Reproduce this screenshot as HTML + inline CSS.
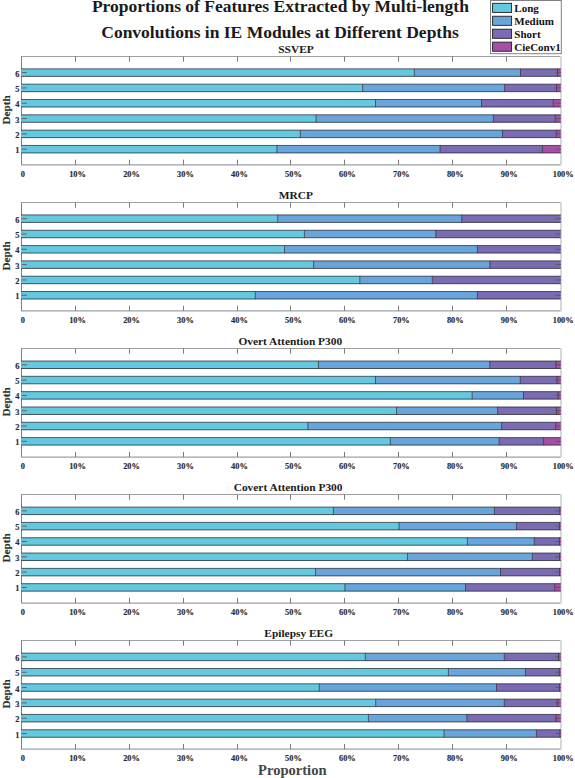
<!DOCTYPE html>
<html><head><meta charset="utf-8"><style>
html,body{margin:0;padding:0;background:#fff;}
body{width:575px;height:778px;position:relative;overflow:hidden;}
.b{font-family:"Liberation Serif",serif;font-weight:bold;}
</style></head><body>
<svg width="575" height="778" viewBox="0 0 575 778" style="position:absolute;left:0;top:0">
<text x="280.4" y="12.2" text-anchor="middle" font-size="17.5" fill="#1a1a1a" class="b">Proportions of Features Extracted by Multi-length</text>
<text x="280" y="38.0" text-anchor="middle" font-size="17.5" fill="#1a1a1a" class="b">Convolutions in IE Modules at Different Depths</text>
<text x="296.0" y="53.3" text-anchor="middle" font-size="11.4" fill="#1a1a1a" class="b">SSVEP</text>
<line x1="21.2" y1="56.5" x2="560.8" y2="56.5" stroke="#a0a0a0" stroke-width="1"/>
<line x1="21.2" y1="164.9" x2="560.8" y2="164.9" stroke="#9aa0a8" stroke-width="1.25"/>
<line x1="21.5" y1="56.5" x2="21.5" y2="164.9" stroke="#808080" stroke-width="1"/>
<line x1="561.0" y1="56.5" x2="561.0" y2="164.9" stroke="#d2d4d6" stroke-width="1.8"/>
<line x1="75.50" y1="56.5" x2="75.50" y2="61.70" stroke="#7a7a7a" stroke-width="1"/>
<line x1="75.50" y1="164.9" x2="75.50" y2="159.70" stroke="#7a7a7a" stroke-width="1"/>
<line x1="129.50" y1="56.5" x2="129.50" y2="61.70" stroke="#7a7a7a" stroke-width="1"/>
<line x1="129.50" y1="164.9" x2="129.50" y2="159.70" stroke="#7a7a7a" stroke-width="1"/>
<line x1="183.50" y1="56.5" x2="183.50" y2="61.70" stroke="#7a7a7a" stroke-width="1"/>
<line x1="183.50" y1="164.9" x2="183.50" y2="159.70" stroke="#7a7a7a" stroke-width="1"/>
<line x1="237.50" y1="56.5" x2="237.50" y2="61.70" stroke="#7a7a7a" stroke-width="1"/>
<line x1="237.50" y1="164.9" x2="237.50" y2="159.70" stroke="#7a7a7a" stroke-width="1"/>
<line x1="290.50" y1="56.5" x2="290.50" y2="61.70" stroke="#7a7a7a" stroke-width="1"/>
<line x1="290.50" y1="164.9" x2="290.50" y2="159.70" stroke="#7a7a7a" stroke-width="1"/>
<line x1="344.50" y1="56.5" x2="344.50" y2="61.70" stroke="#7a7a7a" stroke-width="1"/>
<line x1="344.50" y1="164.9" x2="344.50" y2="159.70" stroke="#7a7a7a" stroke-width="1"/>
<line x1="398.50" y1="56.5" x2="398.50" y2="61.70" stroke="#7a7a7a" stroke-width="1"/>
<line x1="398.50" y1="164.9" x2="398.50" y2="159.70" stroke="#7a7a7a" stroke-width="1"/>
<line x1="452.50" y1="56.5" x2="452.50" y2="61.70" stroke="#7a7a7a" stroke-width="1"/>
<line x1="452.50" y1="164.9" x2="452.50" y2="159.70" stroke="#7a7a7a" stroke-width="1"/>
<line x1="506.50" y1="56.5" x2="506.50" y2="61.70" stroke="#7a7a7a" stroke-width="1"/>
<line x1="506.50" y1="164.9" x2="506.50" y2="159.70" stroke="#7a7a7a" stroke-width="1"/>
<text x="22.80" y="176.9" text-anchor="middle" font-size="8.4" fill="#2a2a2a" stroke="#2a2a2a" stroke-width="0.15" class="b">0</text>
<text x="77.56" y="176.9" text-anchor="middle" font-size="8.4" fill="#2a2a2a" stroke="#2a2a2a" stroke-width="0.15" class="b">10%</text>
<text x="131.52" y="176.9" text-anchor="middle" font-size="8.4" fill="#2a2a2a" stroke="#2a2a2a" stroke-width="0.15" class="b">20%</text>
<text x="185.48" y="176.9" text-anchor="middle" font-size="8.4" fill="#2a2a2a" stroke="#2a2a2a" stroke-width="0.15" class="b">30%</text>
<text x="239.44" y="176.9" text-anchor="middle" font-size="8.4" fill="#2a2a2a" stroke="#2a2a2a" stroke-width="0.15" class="b">40%</text>
<text x="293.40" y="176.9" text-anchor="middle" font-size="8.4" fill="#2a2a2a" stroke="#2a2a2a" stroke-width="0.15" class="b">50%</text>
<text x="347.36" y="176.9" text-anchor="middle" font-size="8.4" fill="#2a2a2a" stroke="#2a2a2a" stroke-width="0.15" class="b">60%</text>
<text x="401.32" y="176.9" text-anchor="middle" font-size="8.4" fill="#2a2a2a" stroke="#2a2a2a" stroke-width="0.15" class="b">70%</text>
<text x="455.28" y="176.9" text-anchor="middle" font-size="8.4" fill="#2a2a2a" stroke="#2a2a2a" stroke-width="0.15" class="b">80%</text>
<text x="509.24" y="176.9" text-anchor="middle" font-size="8.4" fill="#2a2a2a" stroke="#2a2a2a" stroke-width="0.15" class="b">90%</text>
<text x="563.20" y="176.9" text-anchor="middle" font-size="8.4" fill="#2a2a2a" stroke="#2a2a2a" stroke-width="0.15" class="b">100%</text>
<rect x="21.20" y="145.45" width="255.70" height="7.50" fill="#64c8e1"/>
<rect x="276.90" y="145.45" width="163.20" height="7.50" fill="#68a5dc"/>
<rect x="440.10" y="145.45" width="102.30" height="7.50" fill="#7b6bb5"/>
<rect x="542.40" y="145.45" width="18.40" height="7.50" fill="#a550a7"/>
<line x1="21.2" y1="145.45" x2="560.8" y2="145.45" stroke="#1a1a1a" stroke-opacity="0.75" stroke-width="0.9"/>
<line x1="21.2" y1="152.95" x2="560.8" y2="152.95" stroke="#1a1a1a" stroke-opacity="0.8" stroke-width="0.9"/>
<line x1="276.90" y1="145.45" x2="276.90" y2="152.95" stroke="#1a1a1a" stroke-opacity="0.7" stroke-width="0.9"/>
<line x1="440.10" y1="145.45" x2="440.10" y2="152.95" stroke="#1a1a1a" stroke-opacity="0.7" stroke-width="0.9"/>
<line x1="542.40" y1="145.45" x2="542.40" y2="152.95" stroke="#1a1a1a" stroke-opacity="0.7" stroke-width="0.9"/>
<rect x="21.20" y="130.13" width="279.20" height="7.50" fill="#64c8e1"/>
<rect x="300.40" y="130.13" width="202.10" height="7.50" fill="#68a5dc"/>
<rect x="502.50" y="130.13" width="53.80" height="7.50" fill="#7b6bb5"/>
<rect x="556.30" y="130.13" width="4.50" height="7.50" fill="#a550a7"/>
<line x1="21.2" y1="130.13" x2="560.8" y2="130.13" stroke="#1a1a1a" stroke-opacity="0.75" stroke-width="0.9"/>
<line x1="21.2" y1="137.63" x2="560.8" y2="137.63" stroke="#1a1a1a" stroke-opacity="0.8" stroke-width="0.9"/>
<line x1="300.40" y1="130.13" x2="300.40" y2="137.63" stroke="#1a1a1a" stroke-opacity="0.7" stroke-width="0.9"/>
<line x1="502.50" y1="130.13" x2="502.50" y2="137.63" stroke="#1a1a1a" stroke-opacity="0.7" stroke-width="0.9"/>
<line x1="556.30" y1="130.13" x2="556.30" y2="137.63" stroke="#1a1a1a" stroke-opacity="0.7" stroke-width="0.9"/>
<rect x="21.20" y="114.81" width="294.90" height="7.50" fill="#64c8e1"/>
<rect x="316.10" y="114.81" width="177.30" height="7.50" fill="#68a5dc"/>
<rect x="493.40" y="114.81" width="61.90" height="7.50" fill="#7b6bb5"/>
<rect x="555.30" y="114.81" width="5.50" height="7.50" fill="#a550a7"/>
<line x1="21.2" y1="114.81" x2="560.8" y2="114.81" stroke="#1a1a1a" stroke-opacity="0.75" stroke-width="0.9"/>
<line x1="21.2" y1="122.31" x2="560.8" y2="122.31" stroke="#1a1a1a" stroke-opacity="0.8" stroke-width="0.9"/>
<line x1="316.10" y1="114.81" x2="316.10" y2="122.31" stroke="#1a1a1a" stroke-opacity="0.7" stroke-width="0.9"/>
<line x1="493.40" y1="114.81" x2="493.40" y2="122.31" stroke="#1a1a1a" stroke-opacity="0.7" stroke-width="0.9"/>
<line x1="555.30" y1="114.81" x2="555.30" y2="122.31" stroke="#1a1a1a" stroke-opacity="0.7" stroke-width="0.9"/>
<rect x="21.20" y="99.49" width="354.30" height="7.50" fill="#64c8e1"/>
<rect x="375.50" y="99.49" width="106.00" height="7.50" fill="#68a5dc"/>
<rect x="481.50" y="99.49" width="71.80" height="7.50" fill="#7b6bb5"/>
<rect x="553.30" y="99.49" width="7.50" height="7.50" fill="#a550a7"/>
<line x1="21.2" y1="99.49" x2="560.8" y2="99.49" stroke="#1a1a1a" stroke-opacity="0.75" stroke-width="0.9"/>
<line x1="21.2" y1="106.99" x2="560.8" y2="106.99" stroke="#1a1a1a" stroke-opacity="0.8" stroke-width="0.9"/>
<line x1="375.50" y1="99.49" x2="375.50" y2="106.99" stroke="#1a1a1a" stroke-opacity="0.7" stroke-width="0.9"/>
<line x1="481.50" y1="99.49" x2="481.50" y2="106.99" stroke="#1a1a1a" stroke-opacity="0.7" stroke-width="0.9"/>
<line x1="553.30" y1="99.49" x2="553.30" y2="106.99" stroke="#1a1a1a" stroke-opacity="0.7" stroke-width="0.9"/>
<rect x="21.20" y="84.17" width="341.40" height="7.50" fill="#64c8e1"/>
<rect x="362.60" y="84.17" width="142.00" height="7.50" fill="#68a5dc"/>
<rect x="504.60" y="84.17" width="51.90" height="7.50" fill="#7b6bb5"/>
<rect x="556.50" y="84.17" width="4.30" height="7.50" fill="#a550a7"/>
<line x1="21.2" y1="84.17" x2="560.8" y2="84.17" stroke="#1a1a1a" stroke-opacity="0.75" stroke-width="0.9"/>
<line x1="21.2" y1="91.67" x2="560.8" y2="91.67" stroke="#1a1a1a" stroke-opacity="0.8" stroke-width="0.9"/>
<line x1="362.60" y1="84.17" x2="362.60" y2="91.67" stroke="#1a1a1a" stroke-opacity="0.7" stroke-width="0.9"/>
<line x1="504.60" y1="84.17" x2="504.60" y2="91.67" stroke="#1a1a1a" stroke-opacity="0.7" stroke-width="0.9"/>
<line x1="556.50" y1="84.17" x2="556.50" y2="91.67" stroke="#1a1a1a" stroke-opacity="0.7" stroke-width="0.9"/>
<rect x="21.20" y="68.85" width="393.10" height="7.50" fill="#64c8e1"/>
<rect x="414.30" y="68.85" width="106.20" height="7.50" fill="#68a5dc"/>
<rect x="520.50" y="68.85" width="37.00" height="7.50" fill="#7b6bb5"/>
<rect x="557.50" y="68.85" width="3.30" height="7.50" fill="#a550a7"/>
<line x1="21.2" y1="68.85" x2="560.8" y2="68.85" stroke="#1a1a1a" stroke-opacity="0.75" stroke-width="0.9"/>
<line x1="21.2" y1="76.35" x2="560.8" y2="76.35" stroke="#1a1a1a" stroke-opacity="0.8" stroke-width="0.9"/>
<line x1="414.30" y1="68.85" x2="414.30" y2="76.35" stroke="#1a1a1a" stroke-opacity="0.7" stroke-width="0.9"/>
<line x1="520.50" y1="68.85" x2="520.50" y2="76.35" stroke="#1a1a1a" stroke-opacity="0.7" stroke-width="0.9"/>
<line x1="557.50" y1="68.85" x2="557.50" y2="76.35" stroke="#1a1a1a" stroke-opacity="0.7" stroke-width="0.9"/>
<line x1="21.5" y1="149.20" x2="26.90" y2="149.20" stroke="#505050" stroke-width="0.8"/>
<line x1="560.8" y1="149.20" x2="555.40" y2="149.20" stroke="#505050" stroke-width="0.8"/>
<text x="19.5" y="153.20" text-anchor="end" font-size="8.4" fill="#2a2a2a" stroke="#2a2a2a" stroke-width="0.15" class="b">1</text>
<line x1="21.5" y1="133.88" x2="26.90" y2="133.88" stroke="#505050" stroke-width="0.8"/>
<line x1="560.8" y1="133.88" x2="555.40" y2="133.88" stroke="#505050" stroke-width="0.8"/>
<text x="19.5" y="137.88" text-anchor="end" font-size="8.4" fill="#2a2a2a" stroke="#2a2a2a" stroke-width="0.15" class="b">2</text>
<line x1="21.5" y1="118.56" x2="26.90" y2="118.56" stroke="#505050" stroke-width="0.8"/>
<line x1="560.8" y1="118.56" x2="555.40" y2="118.56" stroke="#505050" stroke-width="0.8"/>
<text x="19.5" y="122.56" text-anchor="end" font-size="8.4" fill="#2a2a2a" stroke="#2a2a2a" stroke-width="0.15" class="b">3</text>
<line x1="21.5" y1="103.24" x2="26.90" y2="103.24" stroke="#505050" stroke-width="0.8"/>
<line x1="560.8" y1="103.24" x2="555.40" y2="103.24" stroke="#505050" stroke-width="0.8"/>
<text x="19.5" y="107.24" text-anchor="end" font-size="8.4" fill="#2a2a2a" stroke="#2a2a2a" stroke-width="0.15" class="b">4</text>
<line x1="21.5" y1="87.92" x2="26.90" y2="87.92" stroke="#505050" stroke-width="0.8"/>
<line x1="560.8" y1="87.92" x2="555.40" y2="87.92" stroke="#505050" stroke-width="0.8"/>
<text x="19.5" y="91.92" text-anchor="end" font-size="8.4" fill="#2a2a2a" stroke="#2a2a2a" stroke-width="0.15" class="b">5</text>
<line x1="21.5" y1="72.60" x2="26.90" y2="72.60" stroke="#505050" stroke-width="0.8"/>
<line x1="560.8" y1="72.60" x2="555.40" y2="72.60" stroke="#505050" stroke-width="0.8"/>
<text x="19.5" y="76.60" text-anchor="end" font-size="8.4" fill="#2a2a2a" stroke="#2a2a2a" stroke-width="0.15" class="b">6</text>
<text x="10.4" y="110.0" text-anchor="middle" font-size="11.2" fill="#2e2e2e" stroke="#2e2e2e" stroke-width="0.15" class="b" transform="rotate(-90 10.4 110.0)">Depth</text>
<text x="295.8" y="199.3" text-anchor="middle" font-size="11.4" fill="#1a1a1a" class="b">MRCP</text>
<line x1="21.2" y1="202.5" x2="560.8" y2="202.5" stroke="#a0a0a0" stroke-width="1"/>
<line x1="21.2" y1="310.975" x2="560.8" y2="310.975" stroke="#9aa0a8" stroke-width="1.25"/>
<line x1="21.5" y1="202.5" x2="21.5" y2="310.975" stroke="#808080" stroke-width="1"/>
<line x1="561.0" y1="202.5" x2="561.0" y2="310.975" stroke="#d2d4d6" stroke-width="1.8"/>
<line x1="75.50" y1="202.5" x2="75.50" y2="207.70" stroke="#7a7a7a" stroke-width="1"/>
<line x1="75.50" y1="310.975" x2="75.50" y2="305.78" stroke="#7a7a7a" stroke-width="1"/>
<line x1="129.50" y1="202.5" x2="129.50" y2="207.70" stroke="#7a7a7a" stroke-width="1"/>
<line x1="129.50" y1="310.975" x2="129.50" y2="305.78" stroke="#7a7a7a" stroke-width="1"/>
<line x1="183.50" y1="202.5" x2="183.50" y2="207.70" stroke="#7a7a7a" stroke-width="1"/>
<line x1="183.50" y1="310.975" x2="183.50" y2="305.78" stroke="#7a7a7a" stroke-width="1"/>
<line x1="237.50" y1="202.5" x2="237.50" y2="207.70" stroke="#7a7a7a" stroke-width="1"/>
<line x1="237.50" y1="310.975" x2="237.50" y2="305.78" stroke="#7a7a7a" stroke-width="1"/>
<line x1="290.50" y1="202.5" x2="290.50" y2="207.70" stroke="#7a7a7a" stroke-width="1"/>
<line x1="290.50" y1="310.975" x2="290.50" y2="305.78" stroke="#7a7a7a" stroke-width="1"/>
<line x1="344.50" y1="202.5" x2="344.50" y2="207.70" stroke="#7a7a7a" stroke-width="1"/>
<line x1="344.50" y1="310.975" x2="344.50" y2="305.78" stroke="#7a7a7a" stroke-width="1"/>
<line x1="398.50" y1="202.5" x2="398.50" y2="207.70" stroke="#7a7a7a" stroke-width="1"/>
<line x1="398.50" y1="310.975" x2="398.50" y2="305.78" stroke="#7a7a7a" stroke-width="1"/>
<line x1="452.50" y1="202.5" x2="452.50" y2="207.70" stroke="#7a7a7a" stroke-width="1"/>
<line x1="452.50" y1="310.975" x2="452.50" y2="305.78" stroke="#7a7a7a" stroke-width="1"/>
<line x1="506.50" y1="202.5" x2="506.50" y2="207.70" stroke="#7a7a7a" stroke-width="1"/>
<line x1="506.50" y1="310.975" x2="506.50" y2="305.78" stroke="#7a7a7a" stroke-width="1"/>
<text x="22.80" y="323.0" text-anchor="middle" font-size="8.4" fill="#2a2a2a" stroke="#2a2a2a" stroke-width="0.15" class="b">0</text>
<text x="77.56" y="323.0" text-anchor="middle" font-size="8.4" fill="#2a2a2a" stroke="#2a2a2a" stroke-width="0.15" class="b">10%</text>
<text x="131.52" y="323.0" text-anchor="middle" font-size="8.4" fill="#2a2a2a" stroke="#2a2a2a" stroke-width="0.15" class="b">20%</text>
<text x="185.48" y="323.0" text-anchor="middle" font-size="8.4" fill="#2a2a2a" stroke="#2a2a2a" stroke-width="0.15" class="b">30%</text>
<text x="239.44" y="323.0" text-anchor="middle" font-size="8.4" fill="#2a2a2a" stroke="#2a2a2a" stroke-width="0.15" class="b">40%</text>
<text x="293.40" y="323.0" text-anchor="middle" font-size="8.4" fill="#2a2a2a" stroke="#2a2a2a" stroke-width="0.15" class="b">50%</text>
<text x="347.36" y="323.0" text-anchor="middle" font-size="8.4" fill="#2a2a2a" stroke="#2a2a2a" stroke-width="0.15" class="b">60%</text>
<text x="401.32" y="323.0" text-anchor="middle" font-size="8.4" fill="#2a2a2a" stroke="#2a2a2a" stroke-width="0.15" class="b">70%</text>
<text x="455.28" y="323.0" text-anchor="middle" font-size="8.4" fill="#2a2a2a" stroke="#2a2a2a" stroke-width="0.15" class="b">80%</text>
<text x="509.24" y="323.0" text-anchor="middle" font-size="8.4" fill="#2a2a2a" stroke="#2a2a2a" stroke-width="0.15" class="b">90%</text>
<text x="563.20" y="323.0" text-anchor="middle" font-size="8.4" fill="#2a2a2a" stroke="#2a2a2a" stroke-width="0.15" class="b">100%</text>
<rect x="21.20" y="291.52" width="234.10" height="7.50" fill="#64c8e1"/>
<rect x="255.30" y="291.52" width="222.10" height="7.50" fill="#68a5dc"/>
<rect x="477.40" y="291.52" width="83.40" height="7.50" fill="#7b6bb5"/>
<line x1="21.2" y1="291.52" x2="560.8" y2="291.52" stroke="#1a1a1a" stroke-opacity="0.75" stroke-width="0.9"/>
<line x1="21.2" y1="299.02" x2="560.8" y2="299.02" stroke="#1a1a1a" stroke-opacity="0.8" stroke-width="0.9"/>
<line x1="255.30" y1="291.52" x2="255.30" y2="299.02" stroke="#1a1a1a" stroke-opacity="0.7" stroke-width="0.9"/>
<line x1="477.40" y1="291.52" x2="477.40" y2="299.02" stroke="#1a1a1a" stroke-opacity="0.7" stroke-width="0.9"/>
<rect x="21.20" y="276.20" width="338.60" height="7.50" fill="#64c8e1"/>
<rect x="359.80" y="276.20" width="72.50" height="7.50" fill="#68a5dc"/>
<rect x="432.30" y="276.20" width="128.50" height="7.50" fill="#7b6bb5"/>
<line x1="21.2" y1="276.20" x2="560.8" y2="276.20" stroke="#1a1a1a" stroke-opacity="0.75" stroke-width="0.9"/>
<line x1="21.2" y1="283.70" x2="560.8" y2="283.70" stroke="#1a1a1a" stroke-opacity="0.8" stroke-width="0.9"/>
<line x1="359.80" y1="276.20" x2="359.80" y2="283.70" stroke="#1a1a1a" stroke-opacity="0.7" stroke-width="0.9"/>
<line x1="432.30" y1="276.20" x2="432.30" y2="283.70" stroke="#1a1a1a" stroke-opacity="0.7" stroke-width="0.9"/>
<rect x="21.20" y="260.88" width="292.40" height="7.50" fill="#64c8e1"/>
<rect x="313.60" y="260.88" width="176.20" height="7.50" fill="#68a5dc"/>
<rect x="489.80" y="260.88" width="71.00" height="7.50" fill="#7b6bb5"/>
<line x1="21.2" y1="260.88" x2="560.8" y2="260.88" stroke="#1a1a1a" stroke-opacity="0.75" stroke-width="0.9"/>
<line x1="21.2" y1="268.38" x2="560.8" y2="268.38" stroke="#1a1a1a" stroke-opacity="0.8" stroke-width="0.9"/>
<line x1="313.60" y1="260.88" x2="313.60" y2="268.38" stroke="#1a1a1a" stroke-opacity="0.7" stroke-width="0.9"/>
<line x1="489.80" y1="260.88" x2="489.80" y2="268.38" stroke="#1a1a1a" stroke-opacity="0.7" stroke-width="0.9"/>
<rect x="21.20" y="245.56" width="263.30" height="7.50" fill="#64c8e1"/>
<rect x="284.50" y="245.56" width="192.90" height="7.50" fill="#68a5dc"/>
<rect x="477.40" y="245.56" width="83.40" height="7.50" fill="#7b6bb5"/>
<line x1="21.2" y1="245.56" x2="560.8" y2="245.56" stroke="#1a1a1a" stroke-opacity="0.75" stroke-width="0.9"/>
<line x1="21.2" y1="253.06" x2="560.8" y2="253.06" stroke="#1a1a1a" stroke-opacity="0.8" stroke-width="0.9"/>
<line x1="284.50" y1="245.56" x2="284.50" y2="253.06" stroke="#1a1a1a" stroke-opacity="0.7" stroke-width="0.9"/>
<line x1="477.40" y1="245.56" x2="477.40" y2="253.06" stroke="#1a1a1a" stroke-opacity="0.7" stroke-width="0.9"/>
<rect x="21.20" y="230.24" width="283.20" height="7.50" fill="#64c8e1"/>
<rect x="304.40" y="230.24" width="131.40" height="7.50" fill="#68a5dc"/>
<rect x="435.80" y="230.24" width="125.00" height="7.50" fill="#7b6bb5"/>
<line x1="21.2" y1="230.24" x2="560.8" y2="230.24" stroke="#1a1a1a" stroke-opacity="0.75" stroke-width="0.9"/>
<line x1="21.2" y1="237.74" x2="560.8" y2="237.74" stroke="#1a1a1a" stroke-opacity="0.8" stroke-width="0.9"/>
<line x1="304.40" y1="230.24" x2="304.40" y2="237.74" stroke="#1a1a1a" stroke-opacity="0.7" stroke-width="0.9"/>
<line x1="435.80" y1="230.24" x2="435.80" y2="237.74" stroke="#1a1a1a" stroke-opacity="0.7" stroke-width="0.9"/>
<rect x="21.20" y="214.92" width="256.50" height="7.50" fill="#64c8e1"/>
<rect x="277.70" y="214.92" width="184.00" height="7.50" fill="#68a5dc"/>
<rect x="461.70" y="214.92" width="99.10" height="7.50" fill="#7b6bb5"/>
<line x1="21.2" y1="214.92" x2="560.8" y2="214.92" stroke="#1a1a1a" stroke-opacity="0.75" stroke-width="0.9"/>
<line x1="21.2" y1="222.42" x2="560.8" y2="222.42" stroke="#1a1a1a" stroke-opacity="0.8" stroke-width="0.9"/>
<line x1="277.70" y1="214.92" x2="277.70" y2="222.42" stroke="#1a1a1a" stroke-opacity="0.7" stroke-width="0.9"/>
<line x1="461.70" y1="214.92" x2="461.70" y2="222.42" stroke="#1a1a1a" stroke-opacity="0.7" stroke-width="0.9"/>
<line x1="21.5" y1="295.27" x2="26.90" y2="295.27" stroke="#505050" stroke-width="0.8"/>
<line x1="560.8" y1="295.27" x2="555.40" y2="295.27" stroke="#505050" stroke-width="0.8"/>
<text x="19.5" y="299.27" text-anchor="end" font-size="8.4" fill="#2a2a2a" stroke="#2a2a2a" stroke-width="0.15" class="b">1</text>
<line x1="21.5" y1="279.95" x2="26.90" y2="279.95" stroke="#505050" stroke-width="0.8"/>
<line x1="560.8" y1="279.95" x2="555.40" y2="279.95" stroke="#505050" stroke-width="0.8"/>
<text x="19.5" y="283.95" text-anchor="end" font-size="8.4" fill="#2a2a2a" stroke="#2a2a2a" stroke-width="0.15" class="b">2</text>
<line x1="21.5" y1="264.63" x2="26.90" y2="264.63" stroke="#505050" stroke-width="0.8"/>
<line x1="560.8" y1="264.63" x2="555.40" y2="264.63" stroke="#505050" stroke-width="0.8"/>
<text x="19.5" y="268.63" text-anchor="end" font-size="8.4" fill="#2a2a2a" stroke="#2a2a2a" stroke-width="0.15" class="b">3</text>
<line x1="21.5" y1="249.31" x2="26.90" y2="249.31" stroke="#505050" stroke-width="0.8"/>
<line x1="560.8" y1="249.31" x2="555.40" y2="249.31" stroke="#505050" stroke-width="0.8"/>
<text x="19.5" y="253.31" text-anchor="end" font-size="8.4" fill="#2a2a2a" stroke="#2a2a2a" stroke-width="0.15" class="b">4</text>
<line x1="21.5" y1="233.99" x2="26.90" y2="233.99" stroke="#505050" stroke-width="0.8"/>
<line x1="560.8" y1="233.99" x2="555.40" y2="233.99" stroke="#505050" stroke-width="0.8"/>
<text x="19.5" y="237.99" text-anchor="end" font-size="8.4" fill="#2a2a2a" stroke="#2a2a2a" stroke-width="0.15" class="b">5</text>
<line x1="21.5" y1="218.67" x2="26.90" y2="218.67" stroke="#505050" stroke-width="0.8"/>
<line x1="560.8" y1="218.67" x2="555.40" y2="218.67" stroke="#505050" stroke-width="0.8"/>
<text x="19.5" y="222.67" text-anchor="end" font-size="8.4" fill="#2a2a2a" stroke="#2a2a2a" stroke-width="0.15" class="b">6</text>
<text x="10.4" y="256.0" text-anchor="middle" font-size="11.2" fill="#2e2e2e" stroke="#2e2e2e" stroke-width="0.15" class="b" transform="rotate(-90 10.4 256.0)">Depth</text>
<text x="290.3" y="345.3" text-anchor="middle" font-size="11.4" fill="#1a1a1a" class="b">Overt Attention P300</text>
<line x1="21.2" y1="348.5" x2="560.8" y2="348.5" stroke="#a0a0a0" stroke-width="1"/>
<line x1="21.2" y1="457.04999999999995" x2="560.8" y2="457.04999999999995" stroke="#9aa0a8" stroke-width="1.25"/>
<line x1="21.5" y1="348.5" x2="21.5" y2="457.04999999999995" stroke="#808080" stroke-width="1"/>
<line x1="561.0" y1="348.5" x2="561.0" y2="457.04999999999995" stroke="#d2d4d6" stroke-width="1.8"/>
<line x1="75.50" y1="348.5" x2="75.50" y2="353.70" stroke="#7a7a7a" stroke-width="1"/>
<line x1="75.50" y1="457.04999999999995" x2="75.50" y2="451.85" stroke="#7a7a7a" stroke-width="1"/>
<line x1="129.50" y1="348.5" x2="129.50" y2="353.70" stroke="#7a7a7a" stroke-width="1"/>
<line x1="129.50" y1="457.04999999999995" x2="129.50" y2="451.85" stroke="#7a7a7a" stroke-width="1"/>
<line x1="183.50" y1="348.5" x2="183.50" y2="353.70" stroke="#7a7a7a" stroke-width="1"/>
<line x1="183.50" y1="457.04999999999995" x2="183.50" y2="451.85" stroke="#7a7a7a" stroke-width="1"/>
<line x1="237.50" y1="348.5" x2="237.50" y2="353.70" stroke="#7a7a7a" stroke-width="1"/>
<line x1="237.50" y1="457.04999999999995" x2="237.50" y2="451.85" stroke="#7a7a7a" stroke-width="1"/>
<line x1="290.50" y1="348.5" x2="290.50" y2="353.70" stroke="#7a7a7a" stroke-width="1"/>
<line x1="290.50" y1="457.04999999999995" x2="290.50" y2="451.85" stroke="#7a7a7a" stroke-width="1"/>
<line x1="344.50" y1="348.5" x2="344.50" y2="353.70" stroke="#7a7a7a" stroke-width="1"/>
<line x1="344.50" y1="457.04999999999995" x2="344.50" y2="451.85" stroke="#7a7a7a" stroke-width="1"/>
<line x1="398.50" y1="348.5" x2="398.50" y2="353.70" stroke="#7a7a7a" stroke-width="1"/>
<line x1="398.50" y1="457.04999999999995" x2="398.50" y2="451.85" stroke="#7a7a7a" stroke-width="1"/>
<line x1="452.50" y1="348.5" x2="452.50" y2="353.70" stroke="#7a7a7a" stroke-width="1"/>
<line x1="452.50" y1="457.04999999999995" x2="452.50" y2="451.85" stroke="#7a7a7a" stroke-width="1"/>
<line x1="506.50" y1="348.5" x2="506.50" y2="353.70" stroke="#7a7a7a" stroke-width="1"/>
<line x1="506.50" y1="457.04999999999995" x2="506.50" y2="451.85" stroke="#7a7a7a" stroke-width="1"/>
<text x="22.80" y="469.0" text-anchor="middle" font-size="8.4" fill="#2a2a2a" stroke="#2a2a2a" stroke-width="0.15" class="b">0</text>
<text x="77.56" y="469.0" text-anchor="middle" font-size="8.4" fill="#2a2a2a" stroke="#2a2a2a" stroke-width="0.15" class="b">10%</text>
<text x="131.52" y="469.0" text-anchor="middle" font-size="8.4" fill="#2a2a2a" stroke="#2a2a2a" stroke-width="0.15" class="b">20%</text>
<text x="185.48" y="469.0" text-anchor="middle" font-size="8.4" fill="#2a2a2a" stroke="#2a2a2a" stroke-width="0.15" class="b">30%</text>
<text x="239.44" y="469.0" text-anchor="middle" font-size="8.4" fill="#2a2a2a" stroke="#2a2a2a" stroke-width="0.15" class="b">40%</text>
<text x="293.40" y="469.0" text-anchor="middle" font-size="8.4" fill="#2a2a2a" stroke="#2a2a2a" stroke-width="0.15" class="b">50%</text>
<text x="347.36" y="469.0" text-anchor="middle" font-size="8.4" fill="#2a2a2a" stroke="#2a2a2a" stroke-width="0.15" class="b">60%</text>
<text x="401.32" y="469.0" text-anchor="middle" font-size="8.4" fill="#2a2a2a" stroke="#2a2a2a" stroke-width="0.15" class="b">70%</text>
<text x="455.28" y="469.0" text-anchor="middle" font-size="8.4" fill="#2a2a2a" stroke="#2a2a2a" stroke-width="0.15" class="b">80%</text>
<text x="509.24" y="469.0" text-anchor="middle" font-size="8.4" fill="#2a2a2a" stroke="#2a2a2a" stroke-width="0.15" class="b">90%</text>
<text x="563.20" y="469.0" text-anchor="middle" font-size="8.4" fill="#2a2a2a" stroke="#2a2a2a" stroke-width="0.15" class="b">100%</text>
<rect x="21.20" y="437.60" width="369.10" height="7.50" fill="#64c8e1"/>
<rect x="390.30" y="437.60" width="108.90" height="7.50" fill="#68a5dc"/>
<rect x="499.20" y="437.60" width="44.40" height="7.50" fill="#7b6bb5"/>
<rect x="543.60" y="437.60" width="17.20" height="7.50" fill="#a550a7"/>
<line x1="21.2" y1="437.60" x2="560.8" y2="437.60" stroke="#1a1a1a" stroke-opacity="0.75" stroke-width="0.9"/>
<line x1="21.2" y1="445.10" x2="560.8" y2="445.10" stroke="#1a1a1a" stroke-opacity="0.8" stroke-width="0.9"/>
<line x1="390.30" y1="437.60" x2="390.30" y2="445.10" stroke="#1a1a1a" stroke-opacity="0.7" stroke-width="0.9"/>
<line x1="499.20" y1="437.60" x2="499.20" y2="445.10" stroke="#1a1a1a" stroke-opacity="0.7" stroke-width="0.9"/>
<line x1="543.60" y1="437.60" x2="543.60" y2="445.10" stroke="#1a1a1a" stroke-opacity="0.7" stroke-width="0.9"/>
<rect x="21.20" y="422.28" width="286.70" height="7.50" fill="#64c8e1"/>
<rect x="307.90" y="422.28" width="193.70" height="7.50" fill="#68a5dc"/>
<rect x="501.60" y="422.28" width="54.00" height="7.50" fill="#7b6bb5"/>
<rect x="555.60" y="422.28" width="5.20" height="7.50" fill="#a550a7"/>
<line x1="21.2" y1="422.28" x2="560.8" y2="422.28" stroke="#1a1a1a" stroke-opacity="0.75" stroke-width="0.9"/>
<line x1="21.2" y1="429.78" x2="560.8" y2="429.78" stroke="#1a1a1a" stroke-opacity="0.8" stroke-width="0.9"/>
<line x1="307.90" y1="422.28" x2="307.90" y2="429.78" stroke="#1a1a1a" stroke-opacity="0.7" stroke-width="0.9"/>
<line x1="501.60" y1="422.28" x2="501.60" y2="429.78" stroke="#1a1a1a" stroke-opacity="0.7" stroke-width="0.9"/>
<line x1="555.60" y1="422.28" x2="555.60" y2="429.78" stroke="#1a1a1a" stroke-opacity="0.7" stroke-width="0.9"/>
<rect x="21.20" y="406.96" width="375.40" height="7.50" fill="#64c8e1"/>
<rect x="396.60" y="406.96" width="101.00" height="7.50" fill="#68a5dc"/>
<rect x="497.60" y="406.96" width="58.90" height="7.50" fill="#7b6bb5"/>
<rect x="556.50" y="406.96" width="4.30" height="7.50" fill="#a550a7"/>
<line x1="21.2" y1="406.96" x2="560.8" y2="406.96" stroke="#1a1a1a" stroke-opacity="0.75" stroke-width="0.9"/>
<line x1="21.2" y1="414.46" x2="560.8" y2="414.46" stroke="#1a1a1a" stroke-opacity="0.8" stroke-width="0.9"/>
<line x1="396.60" y1="406.96" x2="396.60" y2="414.46" stroke="#1a1a1a" stroke-opacity="0.7" stroke-width="0.9"/>
<line x1="497.60" y1="406.96" x2="497.60" y2="414.46" stroke="#1a1a1a" stroke-opacity="0.7" stroke-width="0.9"/>
<line x1="556.50" y1="406.96" x2="556.50" y2="414.46" stroke="#1a1a1a" stroke-opacity="0.7" stroke-width="0.9"/>
<rect x="21.20" y="391.64" width="451.00" height="7.50" fill="#64c8e1"/>
<rect x="472.20" y="391.64" width="51.30" height="7.50" fill="#68a5dc"/>
<rect x="523.50" y="391.64" width="34.70" height="7.50" fill="#7b6bb5"/>
<rect x="558.20" y="391.64" width="2.60" height="7.50" fill="#a550a7"/>
<line x1="21.2" y1="391.64" x2="560.8" y2="391.64" stroke="#1a1a1a" stroke-opacity="0.75" stroke-width="0.9"/>
<line x1="21.2" y1="399.14" x2="560.8" y2="399.14" stroke="#1a1a1a" stroke-opacity="0.8" stroke-width="0.9"/>
<line x1="472.20" y1="391.64" x2="472.20" y2="399.14" stroke="#1a1a1a" stroke-opacity="0.7" stroke-width="0.9"/>
<line x1="523.50" y1="391.64" x2="523.50" y2="399.14" stroke="#1a1a1a" stroke-opacity="0.7" stroke-width="0.9"/>
<line x1="558.20" y1="391.64" x2="558.20" y2="399.14" stroke="#1a1a1a" stroke-opacity="0.7" stroke-width="0.9"/>
<rect x="21.20" y="376.32" width="354.30" height="7.50" fill="#64c8e1"/>
<rect x="375.50" y="376.32" width="144.80" height="7.50" fill="#68a5dc"/>
<rect x="520.30" y="376.32" width="36.60" height="7.50" fill="#7b6bb5"/>
<rect x="556.90" y="376.32" width="3.90" height="7.50" fill="#a550a7"/>
<line x1="21.2" y1="376.32" x2="560.8" y2="376.32" stroke="#1a1a1a" stroke-opacity="0.75" stroke-width="0.9"/>
<line x1="21.2" y1="383.82" x2="560.8" y2="383.82" stroke="#1a1a1a" stroke-opacity="0.8" stroke-width="0.9"/>
<line x1="375.50" y1="376.32" x2="375.50" y2="383.82" stroke="#1a1a1a" stroke-opacity="0.7" stroke-width="0.9"/>
<line x1="520.30" y1="376.32" x2="520.30" y2="383.82" stroke="#1a1a1a" stroke-opacity="0.7" stroke-width="0.9"/>
<line x1="556.90" y1="376.32" x2="556.90" y2="383.82" stroke="#1a1a1a" stroke-opacity="0.7" stroke-width="0.9"/>
<rect x="21.20" y="361.00" width="297.20" height="7.50" fill="#64c8e1"/>
<rect x="318.40" y="361.00" width="171.40" height="7.50" fill="#68a5dc"/>
<rect x="489.80" y="361.00" width="66.00" height="7.50" fill="#7b6bb5"/>
<rect x="555.80" y="361.00" width="5.00" height="7.50" fill="#a550a7"/>
<line x1="21.2" y1="361.00" x2="560.8" y2="361.00" stroke="#1a1a1a" stroke-opacity="0.75" stroke-width="0.9"/>
<line x1="21.2" y1="368.50" x2="560.8" y2="368.50" stroke="#1a1a1a" stroke-opacity="0.8" stroke-width="0.9"/>
<line x1="318.40" y1="361.00" x2="318.40" y2="368.50" stroke="#1a1a1a" stroke-opacity="0.7" stroke-width="0.9"/>
<line x1="489.80" y1="361.00" x2="489.80" y2="368.50" stroke="#1a1a1a" stroke-opacity="0.7" stroke-width="0.9"/>
<line x1="555.80" y1="361.00" x2="555.80" y2="368.50" stroke="#1a1a1a" stroke-opacity="0.7" stroke-width="0.9"/>
<line x1="21.5" y1="441.35" x2="26.90" y2="441.35" stroke="#505050" stroke-width="0.8"/>
<line x1="560.8" y1="441.35" x2="555.40" y2="441.35" stroke="#505050" stroke-width="0.8"/>
<text x="19.5" y="445.35" text-anchor="end" font-size="8.4" fill="#2a2a2a" stroke="#2a2a2a" stroke-width="0.15" class="b">1</text>
<line x1="21.5" y1="426.03" x2="26.90" y2="426.03" stroke="#505050" stroke-width="0.8"/>
<line x1="560.8" y1="426.03" x2="555.40" y2="426.03" stroke="#505050" stroke-width="0.8"/>
<text x="19.5" y="430.03" text-anchor="end" font-size="8.4" fill="#2a2a2a" stroke="#2a2a2a" stroke-width="0.15" class="b">2</text>
<line x1="21.5" y1="410.71" x2="26.90" y2="410.71" stroke="#505050" stroke-width="0.8"/>
<line x1="560.8" y1="410.71" x2="555.40" y2="410.71" stroke="#505050" stroke-width="0.8"/>
<text x="19.5" y="414.71" text-anchor="end" font-size="8.4" fill="#2a2a2a" stroke="#2a2a2a" stroke-width="0.15" class="b">3</text>
<line x1="21.5" y1="395.39" x2="26.90" y2="395.39" stroke="#505050" stroke-width="0.8"/>
<line x1="560.8" y1="395.39" x2="555.40" y2="395.39" stroke="#505050" stroke-width="0.8"/>
<text x="19.5" y="399.39" text-anchor="end" font-size="8.4" fill="#2a2a2a" stroke="#2a2a2a" stroke-width="0.15" class="b">4</text>
<line x1="21.5" y1="380.07" x2="26.90" y2="380.07" stroke="#505050" stroke-width="0.8"/>
<line x1="560.8" y1="380.07" x2="555.40" y2="380.07" stroke="#505050" stroke-width="0.8"/>
<text x="19.5" y="384.07" text-anchor="end" font-size="8.4" fill="#2a2a2a" stroke="#2a2a2a" stroke-width="0.15" class="b">5</text>
<line x1="21.5" y1="364.75" x2="26.90" y2="364.75" stroke="#505050" stroke-width="0.8"/>
<line x1="560.8" y1="364.75" x2="555.40" y2="364.75" stroke="#505050" stroke-width="0.8"/>
<text x="19.5" y="368.75" text-anchor="end" font-size="8.4" fill="#2a2a2a" stroke="#2a2a2a" stroke-width="0.15" class="b">6</text>
<text x="10.4" y="402.0" text-anchor="middle" font-size="11.2" fill="#2e2e2e" stroke="#2e2e2e" stroke-width="0.15" class="b" transform="rotate(-90 10.4 402.0)">Depth</text>
<text x="288.1" y="491.3" text-anchor="middle" font-size="11.4" fill="#1a1a1a" class="b">Covert Attention P300</text>
<line x1="21.2" y1="494.5" x2="560.8" y2="494.5" stroke="#a0a0a0" stroke-width="1"/>
<line x1="21.2" y1="603.125" x2="560.8" y2="603.125" stroke="#9aa0a8" stroke-width="1.25"/>
<line x1="21.5" y1="494.5" x2="21.5" y2="603.125" stroke="#808080" stroke-width="1"/>
<line x1="561.0" y1="494.5" x2="561.0" y2="603.125" stroke="#d2d4d6" stroke-width="1.8"/>
<line x1="75.50" y1="494.5" x2="75.50" y2="499.70" stroke="#7a7a7a" stroke-width="1"/>
<line x1="75.50" y1="603.125" x2="75.50" y2="597.92" stroke="#7a7a7a" stroke-width="1"/>
<line x1="129.50" y1="494.5" x2="129.50" y2="499.70" stroke="#7a7a7a" stroke-width="1"/>
<line x1="129.50" y1="603.125" x2="129.50" y2="597.92" stroke="#7a7a7a" stroke-width="1"/>
<line x1="183.50" y1="494.5" x2="183.50" y2="499.70" stroke="#7a7a7a" stroke-width="1"/>
<line x1="183.50" y1="603.125" x2="183.50" y2="597.92" stroke="#7a7a7a" stroke-width="1"/>
<line x1="237.50" y1="494.5" x2="237.50" y2="499.70" stroke="#7a7a7a" stroke-width="1"/>
<line x1="237.50" y1="603.125" x2="237.50" y2="597.92" stroke="#7a7a7a" stroke-width="1"/>
<line x1="290.50" y1="494.5" x2="290.50" y2="499.70" stroke="#7a7a7a" stroke-width="1"/>
<line x1="290.50" y1="603.125" x2="290.50" y2="597.92" stroke="#7a7a7a" stroke-width="1"/>
<line x1="344.50" y1="494.5" x2="344.50" y2="499.70" stroke="#7a7a7a" stroke-width="1"/>
<line x1="344.50" y1="603.125" x2="344.50" y2="597.92" stroke="#7a7a7a" stroke-width="1"/>
<line x1="398.50" y1="494.5" x2="398.50" y2="499.70" stroke="#7a7a7a" stroke-width="1"/>
<line x1="398.50" y1="603.125" x2="398.50" y2="597.92" stroke="#7a7a7a" stroke-width="1"/>
<line x1="452.50" y1="494.5" x2="452.50" y2="499.70" stroke="#7a7a7a" stroke-width="1"/>
<line x1="452.50" y1="603.125" x2="452.50" y2="597.92" stroke="#7a7a7a" stroke-width="1"/>
<line x1="506.50" y1="494.5" x2="506.50" y2="499.70" stroke="#7a7a7a" stroke-width="1"/>
<line x1="506.50" y1="603.125" x2="506.50" y2="597.92" stroke="#7a7a7a" stroke-width="1"/>
<text x="22.80" y="615.1" text-anchor="middle" font-size="8.4" fill="#2a2a2a" stroke="#2a2a2a" stroke-width="0.15" class="b">0</text>
<text x="77.56" y="615.1" text-anchor="middle" font-size="8.4" fill="#2a2a2a" stroke="#2a2a2a" stroke-width="0.15" class="b">10%</text>
<text x="131.52" y="615.1" text-anchor="middle" font-size="8.4" fill="#2a2a2a" stroke="#2a2a2a" stroke-width="0.15" class="b">20%</text>
<text x="185.48" y="615.1" text-anchor="middle" font-size="8.4" fill="#2a2a2a" stroke="#2a2a2a" stroke-width="0.15" class="b">30%</text>
<text x="239.44" y="615.1" text-anchor="middle" font-size="8.4" fill="#2a2a2a" stroke="#2a2a2a" stroke-width="0.15" class="b">40%</text>
<text x="293.40" y="615.1" text-anchor="middle" font-size="8.4" fill="#2a2a2a" stroke="#2a2a2a" stroke-width="0.15" class="b">50%</text>
<text x="347.36" y="615.1" text-anchor="middle" font-size="8.4" fill="#2a2a2a" stroke="#2a2a2a" stroke-width="0.15" class="b">60%</text>
<text x="401.32" y="615.1" text-anchor="middle" font-size="8.4" fill="#2a2a2a" stroke="#2a2a2a" stroke-width="0.15" class="b">70%</text>
<text x="455.28" y="615.1" text-anchor="middle" font-size="8.4" fill="#2a2a2a" stroke="#2a2a2a" stroke-width="0.15" class="b">80%</text>
<text x="509.24" y="615.1" text-anchor="middle" font-size="8.4" fill="#2a2a2a" stroke="#2a2a2a" stroke-width="0.15" class="b">90%</text>
<text x="563.20" y="615.1" text-anchor="middle" font-size="8.4" fill="#2a2a2a" stroke="#2a2a2a" stroke-width="0.15" class="b">100%</text>
<rect x="21.20" y="583.67" width="323.70" height="7.50" fill="#64c8e1"/>
<rect x="344.90" y="583.67" width="120.60" height="7.50" fill="#68a5dc"/>
<rect x="465.50" y="583.67" width="89.20" height="7.50" fill="#7b6bb5"/>
<rect x="554.70" y="583.67" width="6.10" height="7.50" fill="#a550a7"/>
<line x1="21.2" y1="583.67" x2="560.8" y2="583.67" stroke="#1a1a1a" stroke-opacity="0.75" stroke-width="0.9"/>
<line x1="21.2" y1="591.17" x2="560.8" y2="591.17" stroke="#1a1a1a" stroke-opacity="0.8" stroke-width="0.9"/>
<line x1="344.90" y1="583.67" x2="344.90" y2="591.17" stroke="#1a1a1a" stroke-opacity="0.7" stroke-width="0.9"/>
<line x1="465.50" y1="583.67" x2="465.50" y2="591.17" stroke="#1a1a1a" stroke-opacity="0.7" stroke-width="0.9"/>
<line x1="554.70" y1="583.67" x2="554.70" y2="591.17" stroke="#1a1a1a" stroke-opacity="0.7" stroke-width="0.9"/>
<rect x="21.20" y="568.36" width="294.40" height="7.50" fill="#64c8e1"/>
<rect x="315.60" y="568.36" width="184.90" height="7.50" fill="#68a5dc"/>
<rect x="500.50" y="568.36" width="59.00" height="7.50" fill="#7b6bb5"/>
<rect x="559.50" y="568.36" width="1.30" height="7.50" fill="#a550a7"/>
<line x1="21.2" y1="568.36" x2="560.8" y2="568.36" stroke="#1a1a1a" stroke-opacity="0.75" stroke-width="0.9"/>
<line x1="21.2" y1="575.86" x2="560.8" y2="575.86" stroke="#1a1a1a" stroke-opacity="0.8" stroke-width="0.9"/>
<line x1="315.60" y1="568.36" x2="315.60" y2="575.86" stroke="#1a1a1a" stroke-opacity="0.7" stroke-width="0.9"/>
<line x1="500.50" y1="568.36" x2="500.50" y2="575.86" stroke="#1a1a1a" stroke-opacity="0.7" stroke-width="0.9"/>
<line x1="559.50" y1="568.36" x2="559.50" y2="575.86" stroke="#1a1a1a" stroke-opacity="0.7" stroke-width="0.9"/>
<rect x="21.20" y="553.03" width="386.20" height="7.50" fill="#64c8e1"/>
<rect x="407.40" y="553.03" width="125.00" height="7.50" fill="#68a5dc"/>
<rect x="532.40" y="553.03" width="27.10" height="7.50" fill="#7b6bb5"/>
<rect x="559.50" y="553.03" width="1.30" height="7.50" fill="#a550a7"/>
<line x1="21.2" y1="553.03" x2="560.8" y2="553.03" stroke="#1a1a1a" stroke-opacity="0.75" stroke-width="0.9"/>
<line x1="21.2" y1="560.53" x2="560.8" y2="560.53" stroke="#1a1a1a" stroke-opacity="0.8" stroke-width="0.9"/>
<line x1="407.40" y1="553.03" x2="407.40" y2="560.53" stroke="#1a1a1a" stroke-opacity="0.7" stroke-width="0.9"/>
<line x1="532.40" y1="553.03" x2="532.40" y2="560.53" stroke="#1a1a1a" stroke-opacity="0.7" stroke-width="0.9"/>
<line x1="559.50" y1="553.03" x2="559.50" y2="560.53" stroke="#1a1a1a" stroke-opacity="0.7" stroke-width="0.9"/>
<rect x="21.20" y="537.72" width="446.20" height="7.50" fill="#64c8e1"/>
<rect x="467.40" y="537.72" width="66.90" height="7.50" fill="#68a5dc"/>
<rect x="534.30" y="537.72" width="25.20" height="7.50" fill="#7b6bb5"/>
<rect x="559.50" y="537.72" width="1.30" height="7.50" fill="#a550a7"/>
<line x1="21.2" y1="537.72" x2="560.8" y2="537.72" stroke="#1a1a1a" stroke-opacity="0.75" stroke-width="0.9"/>
<line x1="21.2" y1="545.22" x2="560.8" y2="545.22" stroke="#1a1a1a" stroke-opacity="0.8" stroke-width="0.9"/>
<line x1="467.40" y1="537.72" x2="467.40" y2="545.22" stroke="#1a1a1a" stroke-opacity="0.7" stroke-width="0.9"/>
<line x1="534.30" y1="537.72" x2="534.30" y2="545.22" stroke="#1a1a1a" stroke-opacity="0.7" stroke-width="0.9"/>
<line x1="559.50" y1="537.72" x2="559.50" y2="545.22" stroke="#1a1a1a" stroke-opacity="0.7" stroke-width="0.9"/>
<rect x="21.20" y="522.39" width="377.90" height="7.50" fill="#64c8e1"/>
<rect x="399.10" y="522.39" width="117.40" height="7.50" fill="#68a5dc"/>
<rect x="516.50" y="522.39" width="43.00" height="7.50" fill="#7b6bb5"/>
<rect x="559.50" y="522.39" width="1.30" height="7.50" fill="#a550a7"/>
<line x1="21.2" y1="522.39" x2="560.8" y2="522.39" stroke="#1a1a1a" stroke-opacity="0.75" stroke-width="0.9"/>
<line x1="21.2" y1="529.89" x2="560.8" y2="529.89" stroke="#1a1a1a" stroke-opacity="0.8" stroke-width="0.9"/>
<line x1="399.10" y1="522.39" x2="399.10" y2="529.89" stroke="#1a1a1a" stroke-opacity="0.7" stroke-width="0.9"/>
<line x1="516.50" y1="522.39" x2="516.50" y2="529.89" stroke="#1a1a1a" stroke-opacity="0.7" stroke-width="0.9"/>
<line x1="559.50" y1="522.39" x2="559.50" y2="529.89" stroke="#1a1a1a" stroke-opacity="0.7" stroke-width="0.9"/>
<rect x="21.20" y="507.07" width="312.20" height="7.50" fill="#64c8e1"/>
<rect x="333.40" y="507.07" width="161.00" height="7.50" fill="#68a5dc"/>
<rect x="494.40" y="507.07" width="65.30" height="7.50" fill="#7b6bb5"/>
<rect x="559.70" y="507.07" width="1.10" height="7.50" fill="#a550a7"/>
<line x1="21.2" y1="507.07" x2="560.8" y2="507.07" stroke="#1a1a1a" stroke-opacity="0.75" stroke-width="0.9"/>
<line x1="21.2" y1="514.57" x2="560.8" y2="514.57" stroke="#1a1a1a" stroke-opacity="0.8" stroke-width="0.9"/>
<line x1="333.40" y1="507.07" x2="333.40" y2="514.57" stroke="#1a1a1a" stroke-opacity="0.7" stroke-width="0.9"/>
<line x1="494.40" y1="507.07" x2="494.40" y2="514.57" stroke="#1a1a1a" stroke-opacity="0.7" stroke-width="0.9"/>
<line x1="559.70" y1="507.07" x2="559.70" y2="514.57" stroke="#1a1a1a" stroke-opacity="0.7" stroke-width="0.9"/>
<line x1="21.5" y1="587.42" x2="26.90" y2="587.42" stroke="#505050" stroke-width="0.8"/>
<line x1="560.8" y1="587.42" x2="555.40" y2="587.42" stroke="#505050" stroke-width="0.8"/>
<text x="19.5" y="591.42" text-anchor="end" font-size="8.4" fill="#2a2a2a" stroke="#2a2a2a" stroke-width="0.15" class="b">1</text>
<line x1="21.5" y1="572.11" x2="26.90" y2="572.11" stroke="#505050" stroke-width="0.8"/>
<line x1="560.8" y1="572.11" x2="555.40" y2="572.11" stroke="#505050" stroke-width="0.8"/>
<text x="19.5" y="576.11" text-anchor="end" font-size="8.4" fill="#2a2a2a" stroke="#2a2a2a" stroke-width="0.15" class="b">2</text>
<line x1="21.5" y1="556.78" x2="26.90" y2="556.78" stroke="#505050" stroke-width="0.8"/>
<line x1="560.8" y1="556.78" x2="555.40" y2="556.78" stroke="#505050" stroke-width="0.8"/>
<text x="19.5" y="560.78" text-anchor="end" font-size="8.4" fill="#2a2a2a" stroke="#2a2a2a" stroke-width="0.15" class="b">3</text>
<line x1="21.5" y1="541.47" x2="26.90" y2="541.47" stroke="#505050" stroke-width="0.8"/>
<line x1="560.8" y1="541.47" x2="555.40" y2="541.47" stroke="#505050" stroke-width="0.8"/>
<text x="19.5" y="545.47" text-anchor="end" font-size="8.4" fill="#2a2a2a" stroke="#2a2a2a" stroke-width="0.15" class="b">4</text>
<line x1="21.5" y1="526.14" x2="26.90" y2="526.14" stroke="#505050" stroke-width="0.8"/>
<line x1="560.8" y1="526.14" x2="555.40" y2="526.14" stroke="#505050" stroke-width="0.8"/>
<text x="19.5" y="530.14" text-anchor="end" font-size="8.4" fill="#2a2a2a" stroke="#2a2a2a" stroke-width="0.15" class="b">5</text>
<line x1="21.5" y1="510.82" x2="26.90" y2="510.82" stroke="#505050" stroke-width="0.8"/>
<line x1="560.8" y1="510.82" x2="555.40" y2="510.82" stroke="#505050" stroke-width="0.8"/>
<text x="19.5" y="514.82" text-anchor="end" font-size="8.4" fill="#2a2a2a" stroke="#2a2a2a" stroke-width="0.15" class="b">6</text>
<text x="10.4" y="548.0" text-anchor="middle" font-size="11.2" fill="#2e2e2e" stroke="#2e2e2e" stroke-width="0.15" class="b" transform="rotate(-90 10.4 548.0)">Depth</text>
<text x="298.7" y="637.3" text-anchor="middle" font-size="11.4" fill="#1a1a1a" class="b">Epilepsy EEG</text>
<line x1="21.2" y1="640.5" x2="560.8" y2="640.5" stroke="#a0a0a0" stroke-width="1"/>
<line x1="21.2" y1="749.1999999999999" x2="560.8" y2="749.1999999999999" stroke="#9aa0a8" stroke-width="1.25"/>
<line x1="21.5" y1="640.5" x2="21.5" y2="749.1999999999999" stroke="#808080" stroke-width="1"/>
<line x1="561.0" y1="640.5" x2="561.0" y2="749.1999999999999" stroke="#d2d4d6" stroke-width="1.8"/>
<line x1="75.50" y1="640.5" x2="75.50" y2="645.70" stroke="#7a7a7a" stroke-width="1"/>
<line x1="75.50" y1="749.1999999999999" x2="75.50" y2="744.00" stroke="#7a7a7a" stroke-width="1"/>
<line x1="129.50" y1="640.5" x2="129.50" y2="645.70" stroke="#7a7a7a" stroke-width="1"/>
<line x1="129.50" y1="749.1999999999999" x2="129.50" y2="744.00" stroke="#7a7a7a" stroke-width="1"/>
<line x1="183.50" y1="640.5" x2="183.50" y2="645.70" stroke="#7a7a7a" stroke-width="1"/>
<line x1="183.50" y1="749.1999999999999" x2="183.50" y2="744.00" stroke="#7a7a7a" stroke-width="1"/>
<line x1="237.50" y1="640.5" x2="237.50" y2="645.70" stroke="#7a7a7a" stroke-width="1"/>
<line x1="237.50" y1="749.1999999999999" x2="237.50" y2="744.00" stroke="#7a7a7a" stroke-width="1"/>
<line x1="290.50" y1="640.5" x2="290.50" y2="645.70" stroke="#7a7a7a" stroke-width="1"/>
<line x1="290.50" y1="749.1999999999999" x2="290.50" y2="744.00" stroke="#7a7a7a" stroke-width="1"/>
<line x1="344.50" y1="640.5" x2="344.50" y2="645.70" stroke="#7a7a7a" stroke-width="1"/>
<line x1="344.50" y1="749.1999999999999" x2="344.50" y2="744.00" stroke="#7a7a7a" stroke-width="1"/>
<line x1="398.50" y1="640.5" x2="398.50" y2="645.70" stroke="#7a7a7a" stroke-width="1"/>
<line x1="398.50" y1="749.1999999999999" x2="398.50" y2="744.00" stroke="#7a7a7a" stroke-width="1"/>
<line x1="452.50" y1="640.5" x2="452.50" y2="645.70" stroke="#7a7a7a" stroke-width="1"/>
<line x1="452.50" y1="749.1999999999999" x2="452.50" y2="744.00" stroke="#7a7a7a" stroke-width="1"/>
<line x1="506.50" y1="640.5" x2="506.50" y2="645.70" stroke="#7a7a7a" stroke-width="1"/>
<line x1="506.50" y1="749.1999999999999" x2="506.50" y2="744.00" stroke="#7a7a7a" stroke-width="1"/>
<text x="22.80" y="761.2" text-anchor="middle" font-size="8.4" fill="#2a2a2a" stroke="#2a2a2a" stroke-width="0.15" class="b">0</text>
<text x="77.56" y="761.2" text-anchor="middle" font-size="8.4" fill="#2a2a2a" stroke="#2a2a2a" stroke-width="0.15" class="b">10%</text>
<text x="131.52" y="761.2" text-anchor="middle" font-size="8.4" fill="#2a2a2a" stroke="#2a2a2a" stroke-width="0.15" class="b">20%</text>
<text x="185.48" y="761.2" text-anchor="middle" font-size="8.4" fill="#2a2a2a" stroke="#2a2a2a" stroke-width="0.15" class="b">30%</text>
<text x="239.44" y="761.2" text-anchor="middle" font-size="8.4" fill="#2a2a2a" stroke="#2a2a2a" stroke-width="0.15" class="b">40%</text>
<text x="293.40" y="761.2" text-anchor="middle" font-size="8.4" fill="#2a2a2a" stroke="#2a2a2a" stroke-width="0.15" class="b">50%</text>
<text x="347.36" y="761.2" text-anchor="middle" font-size="8.4" fill="#2a2a2a" stroke="#2a2a2a" stroke-width="0.15" class="b">60%</text>
<text x="401.32" y="761.2" text-anchor="middle" font-size="8.4" fill="#2a2a2a" stroke="#2a2a2a" stroke-width="0.15" class="b">70%</text>
<text x="455.28" y="761.2" text-anchor="middle" font-size="8.4" fill="#2a2a2a" stroke="#2a2a2a" stroke-width="0.15" class="b">80%</text>
<text x="509.24" y="761.2" text-anchor="middle" font-size="8.4" fill="#2a2a2a" stroke="#2a2a2a" stroke-width="0.15" class="b">90%</text>
<text x="563.20" y="761.2" text-anchor="middle" font-size="8.4" fill="#2a2a2a" stroke="#2a2a2a" stroke-width="0.15" class="b">100%</text>
<rect x="21.20" y="729.75" width="422.90" height="7.50" fill="#64c8e1"/>
<rect x="444.10" y="729.75" width="92.30" height="7.50" fill="#68a5dc"/>
<rect x="536.40" y="729.75" width="23.60" height="7.50" fill="#7b6bb5"/>
<rect x="560.00" y="729.75" width="0.80" height="7.50" fill="#a550a7"/>
<line x1="21.2" y1="729.75" x2="560.8" y2="729.75" stroke="#1a1a1a" stroke-opacity="0.75" stroke-width="0.9"/>
<line x1="21.2" y1="737.25" x2="560.8" y2="737.25" stroke="#1a1a1a" stroke-opacity="0.8" stroke-width="0.9"/>
<line x1="444.10" y1="729.75" x2="444.10" y2="737.25" stroke="#1a1a1a" stroke-opacity="0.7" stroke-width="0.9"/>
<line x1="536.40" y1="729.75" x2="536.40" y2="737.25" stroke="#1a1a1a" stroke-opacity="0.7" stroke-width="0.9"/>
<line x1="560.00" y1="729.75" x2="560.00" y2="737.25" stroke="#1a1a1a" stroke-opacity="0.7" stroke-width="0.9"/>
<rect x="21.20" y="714.43" width="347.20" height="7.50" fill="#64c8e1"/>
<rect x="368.40" y="714.43" width="98.50" height="7.50" fill="#68a5dc"/>
<rect x="466.90" y="714.43" width="89.20" height="7.50" fill="#7b6bb5"/>
<rect x="556.10" y="714.43" width="4.70" height="7.50" fill="#a550a7"/>
<line x1="21.2" y1="714.43" x2="560.8" y2="714.43" stroke="#1a1a1a" stroke-opacity="0.75" stroke-width="0.9"/>
<line x1="21.2" y1="721.93" x2="560.8" y2="721.93" stroke="#1a1a1a" stroke-opacity="0.8" stroke-width="0.9"/>
<line x1="368.40" y1="714.43" x2="368.40" y2="721.93" stroke="#1a1a1a" stroke-opacity="0.7" stroke-width="0.9"/>
<line x1="466.90" y1="714.43" x2="466.90" y2="721.93" stroke="#1a1a1a" stroke-opacity="0.7" stroke-width="0.9"/>
<line x1="556.10" y1="714.43" x2="556.10" y2="721.93" stroke="#1a1a1a" stroke-opacity="0.7" stroke-width="0.9"/>
<rect x="21.20" y="699.11" width="354.50" height="7.50" fill="#64c8e1"/>
<rect x="375.70" y="699.11" width="128.60" height="7.50" fill="#68a5dc"/>
<rect x="504.30" y="699.11" width="53.00" height="7.50" fill="#7b6bb5"/>
<rect x="557.30" y="699.11" width="3.50" height="7.50" fill="#a550a7"/>
<line x1="21.2" y1="699.11" x2="560.8" y2="699.11" stroke="#1a1a1a" stroke-opacity="0.75" stroke-width="0.9"/>
<line x1="21.2" y1="706.61" x2="560.8" y2="706.61" stroke="#1a1a1a" stroke-opacity="0.8" stroke-width="0.9"/>
<line x1="375.70" y1="699.11" x2="375.70" y2="706.61" stroke="#1a1a1a" stroke-opacity="0.7" stroke-width="0.9"/>
<line x1="504.30" y1="699.11" x2="504.30" y2="706.61" stroke="#1a1a1a" stroke-opacity="0.7" stroke-width="0.9"/>
<line x1="557.30" y1="699.11" x2="557.30" y2="706.61" stroke="#1a1a1a" stroke-opacity="0.7" stroke-width="0.9"/>
<rect x="21.20" y="683.79" width="298.10" height="7.50" fill="#64c8e1"/>
<rect x="319.30" y="683.79" width="177.20" height="7.50" fill="#68a5dc"/>
<rect x="496.50" y="683.79" width="63.00" height="7.50" fill="#7b6bb5"/>
<rect x="559.50" y="683.79" width="1.30" height="7.50" fill="#a550a7"/>
<line x1="21.2" y1="683.79" x2="560.8" y2="683.79" stroke="#1a1a1a" stroke-opacity="0.75" stroke-width="0.9"/>
<line x1="21.2" y1="691.29" x2="560.8" y2="691.29" stroke="#1a1a1a" stroke-opacity="0.8" stroke-width="0.9"/>
<line x1="319.30" y1="683.79" x2="319.30" y2="691.29" stroke="#1a1a1a" stroke-opacity="0.7" stroke-width="0.9"/>
<line x1="496.50" y1="683.79" x2="496.50" y2="691.29" stroke="#1a1a1a" stroke-opacity="0.7" stroke-width="0.9"/>
<line x1="559.50" y1="683.79" x2="559.50" y2="691.29" stroke="#1a1a1a" stroke-opacity="0.7" stroke-width="0.9"/>
<rect x="21.20" y="668.47" width="427.20" height="7.50" fill="#64c8e1"/>
<rect x="448.40" y="668.47" width="77.00" height="7.50" fill="#68a5dc"/>
<rect x="525.40" y="668.47" width="34.00" height="7.50" fill="#7b6bb5"/>
<rect x="559.40" y="668.47" width="1.40" height="7.50" fill="#a550a7"/>
<line x1="21.2" y1="668.47" x2="560.8" y2="668.47" stroke="#1a1a1a" stroke-opacity="0.75" stroke-width="0.9"/>
<line x1="21.2" y1="675.97" x2="560.8" y2="675.97" stroke="#1a1a1a" stroke-opacity="0.8" stroke-width="0.9"/>
<line x1="448.40" y1="668.47" x2="448.40" y2="675.97" stroke="#1a1a1a" stroke-opacity="0.7" stroke-width="0.9"/>
<line x1="525.40" y1="668.47" x2="525.40" y2="675.97" stroke="#1a1a1a" stroke-opacity="0.7" stroke-width="0.9"/>
<line x1="559.40" y1="668.47" x2="559.40" y2="675.97" stroke="#1a1a1a" stroke-opacity="0.7" stroke-width="0.9"/>
<rect x="21.20" y="653.15" width="344.10" height="7.50" fill="#64c8e1"/>
<rect x="365.30" y="653.15" width="139.00" height="7.50" fill="#68a5dc"/>
<rect x="504.30" y="653.15" width="54.20" height="7.50" fill="#7b6bb5"/>
<rect x="558.50" y="653.15" width="2.30" height="7.50" fill="#a550a7"/>
<line x1="21.2" y1="653.15" x2="560.8" y2="653.15" stroke="#1a1a1a" stroke-opacity="0.75" stroke-width="0.9"/>
<line x1="21.2" y1="660.65" x2="560.8" y2="660.65" stroke="#1a1a1a" stroke-opacity="0.8" stroke-width="0.9"/>
<line x1="365.30" y1="653.15" x2="365.30" y2="660.65" stroke="#1a1a1a" stroke-opacity="0.7" stroke-width="0.9"/>
<line x1="504.30" y1="653.15" x2="504.30" y2="660.65" stroke="#1a1a1a" stroke-opacity="0.7" stroke-width="0.9"/>
<line x1="558.50" y1="653.15" x2="558.50" y2="660.65" stroke="#1a1a1a" stroke-opacity="0.7" stroke-width="0.9"/>
<line x1="21.5" y1="733.50" x2="26.90" y2="733.50" stroke="#505050" stroke-width="0.8"/>
<line x1="560.8" y1="733.50" x2="555.40" y2="733.50" stroke="#505050" stroke-width="0.8"/>
<text x="19.5" y="737.50" text-anchor="end" font-size="8.4" fill="#2a2a2a" stroke="#2a2a2a" stroke-width="0.15" class="b">1</text>
<line x1="21.5" y1="718.18" x2="26.90" y2="718.18" stroke="#505050" stroke-width="0.8"/>
<line x1="560.8" y1="718.18" x2="555.40" y2="718.18" stroke="#505050" stroke-width="0.8"/>
<text x="19.5" y="722.18" text-anchor="end" font-size="8.4" fill="#2a2a2a" stroke="#2a2a2a" stroke-width="0.15" class="b">2</text>
<line x1="21.5" y1="702.86" x2="26.90" y2="702.86" stroke="#505050" stroke-width="0.8"/>
<line x1="560.8" y1="702.86" x2="555.40" y2="702.86" stroke="#505050" stroke-width="0.8"/>
<text x="19.5" y="706.86" text-anchor="end" font-size="8.4" fill="#2a2a2a" stroke="#2a2a2a" stroke-width="0.15" class="b">3</text>
<line x1="21.5" y1="687.54" x2="26.90" y2="687.54" stroke="#505050" stroke-width="0.8"/>
<line x1="560.8" y1="687.54" x2="555.40" y2="687.54" stroke="#505050" stroke-width="0.8"/>
<text x="19.5" y="691.54" text-anchor="end" font-size="8.4" fill="#2a2a2a" stroke="#2a2a2a" stroke-width="0.15" class="b">4</text>
<line x1="21.5" y1="672.22" x2="26.90" y2="672.22" stroke="#505050" stroke-width="0.8"/>
<line x1="560.8" y1="672.22" x2="555.40" y2="672.22" stroke="#505050" stroke-width="0.8"/>
<text x="19.5" y="676.22" text-anchor="end" font-size="8.4" fill="#2a2a2a" stroke="#2a2a2a" stroke-width="0.15" class="b">5</text>
<line x1="21.5" y1="656.90" x2="26.90" y2="656.90" stroke="#505050" stroke-width="0.8"/>
<line x1="560.8" y1="656.90" x2="555.40" y2="656.90" stroke="#505050" stroke-width="0.8"/>
<text x="19.5" y="660.90" text-anchor="end" font-size="8.4" fill="#2a2a2a" stroke="#2a2a2a" stroke-width="0.15" class="b">6</text>
<text x="10.4" y="694.0" text-anchor="middle" font-size="11.2" fill="#2e2e2e" stroke="#2e2e2e" stroke-width="0.15" class="b" transform="rotate(-90 10.4 694.0)">Depth</text>
<text x="292.3" y="774.9" text-anchor="middle" font-size="14.55" fill="#454545" class="b">Proportion</text>
<rect x="490.5" y="0.5" width="70.8" height="53.2" fill="#fff" stroke="#808080" stroke-width="1"/>
<rect x="492.6" y="3.30" width="19" height="9.1" fill="#64c8e1" stroke="#1e1e1e" stroke-width="0.9"/>
<text x="514.3" y="11.80" font-size="11.0" fill="#111" class="b">Long</text>
<rect x="492.6" y="16.25" width="19" height="9.1" fill="#68a5dc" stroke="#1e1e1e" stroke-width="0.9"/>
<text x="514.3" y="24.75" font-size="11.0" fill="#111" class="b">Medium</text>
<rect x="492.6" y="29.20" width="19" height="9.1" fill="#7b6bb5" stroke="#1e1e1e" stroke-width="0.9"/>
<text x="514.3" y="37.70" font-size="11.0" fill="#111" class="b">Short</text>
<rect x="492.6" y="42.15" width="19" height="9.1" fill="#a550a7" stroke="#1e1e1e" stroke-width="0.9"/>
<text x="514.3" y="50.65" font-size="11.0" fill="#111" class="b">CieConv1</text>
</svg>
</body></html>
